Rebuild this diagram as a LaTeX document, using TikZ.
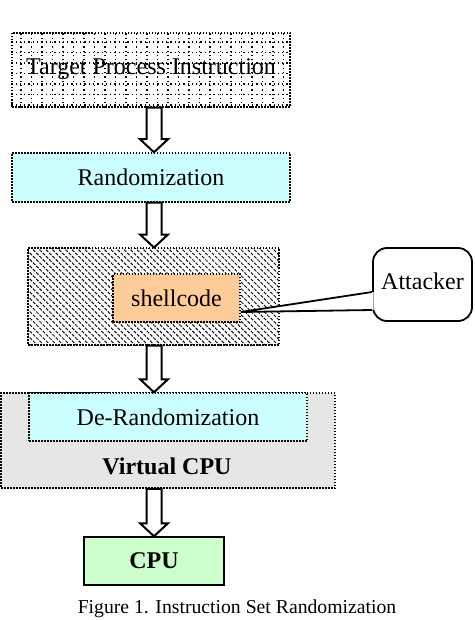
\documentclass[tikz,border=0pt]{standalone}
\usepackage{fontspec}
\setmainfont{Liberation Serif}
\usetikzlibrary{positioning, calc, patterns.meta}

\definecolor{randfill}{HTML}{CCFFFF}
\definecolor{shellfill}{HTML}{FFCC99}
\definecolor{vcpufill}{HTML}{E6E6E6}
\definecolor{cpufill}{HTML}{CCFFCC}

\tikzset{
  dotbox/.style={draw, line width=1.5pt, dash pattern=on 1.5pt off 1.5pt, inner sep=0pt, font=\fontsize{24}{28}\selectfont},
  solidbox/.style={draw, line width=1.5pt, inner sep=0pt, font=\fontsize{24}{28}\selectfont\bfseries},
  griddots/.style={line width=1.3pt, dash pattern=on 1.3pt off 3pt},
  bigarrow/.style={draw, fill=white, line width=2pt, to path={
    ($(\tikztostart)+(-7.5,0)$) -- ($(\tikztotarget)+(-7.5,-13)$) -- ($(\tikztotarget)+(-14,-13)$)
    -- (\tikztotarget) -- ($(\tikztotarget)+(14,-13)$) -- ($(\tikztotarget)+(7.5,-13)$)
    -- ($(\tikztostart)+(7.5,0)$) -- cycle}}
}

\begin{document}
\begin{tikzpicture}[x=1pt, y=-1pt]
\useasboundingbox (0,0) rectangle (474,620);

\node[dotbox, minimum width=278pt, minimum height=74pt](target) at (151,70) {\raisebox{6pt}{Target Process Instruction}};
\node[dotbox, fill=randfill, minimum width=278pt, minimum height=49pt](rand) at (151,177.5) {Randomization};
\node[dotbox, pattern={Lines[angle=-45, distance=4.6pt, line width=1pt]}, minimum width=251pt, minimum height=97pt](prog) at (153.5,296.5) {};
\node[dotbox, fill=shellfill, minimum width=127pt, minimum height=48pt](shell) at (176.5,298) {shellcode};
\node[draw, line width=1.8pt, rounded corners=14pt, minimum width=99pt, minimum height=73pt, inner sep=0pt, font=\fontsize{24}{28}\selectfont](att) at (422.5,284.5) {\raisebox{6pt}{Attacker}};
\node[dotbox, fill=vcpufill, minimum width=334pt, minimum height=95pt](vcpu) at (168,440.5) {};
\node[dotbox, fill=randfill, minimum width=278pt, minimum height=48pt](derand) at (168,417) {De-Randomization};
\node[font=\fontsize{24}{28}\selectfont\bfseries](vlabel) at (167,466) {Virtual CPU};
\node[solidbox, fill=cpufill, minimum width=140pt, minimum height=48pt](cpu) at (154,561) {CPU};
\node[font=\fontsize{19.7}{23}\selectfont](caption) at (237,609) {Figure 1. Instruction Set Randomization};

\draw[griddots, step=10.5pt] (target.south west) grid (target.north east);

\fill[white] ([xshift=1.5pt, yshift=-7.5pt]att.west) -- ([yshift=-14pt]shell.east) -- ([xshift=1.5pt, yshift=-25.5pt]att.west) -- cycle;
\draw[line width=1.8pt] ([yshift=-7.5pt]att.west) -- ([yshift=-14pt]shell.east) -- ([yshift=-25.5pt]att.west);

\draw[bigarrow] (target.south -| cpu.north) to (rand.north -| cpu.north);
\draw[bigarrow] (rand.south -| cpu.north) to (prog.north -| cpu.north);
\draw[bigarrow] (prog.south -| cpu.north) to (vcpu.north -| cpu.north);
\draw[bigarrow] (vcpu.south -| cpu.north) to (cpu.north);
\end{tikzpicture}
\end{document}
